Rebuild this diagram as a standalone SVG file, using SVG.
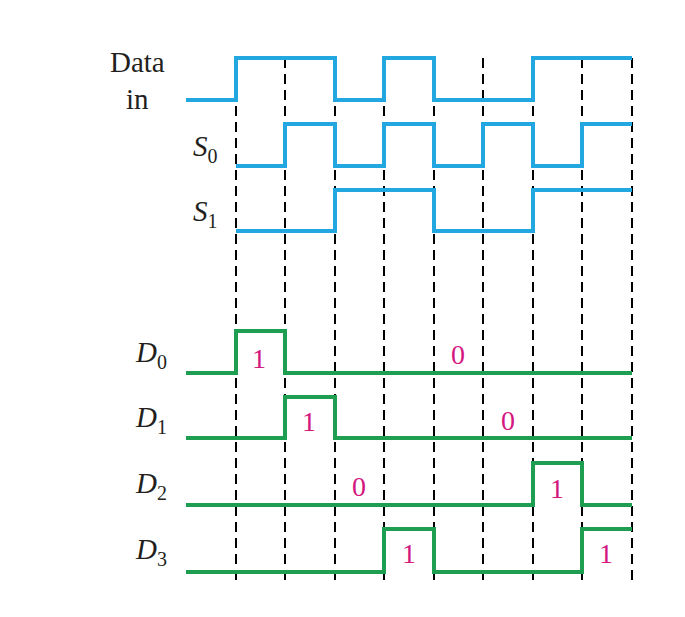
<svg xmlns="http://www.w3.org/2000/svg" width="685" height="617" viewBox="0 0 685 617">
<style>
.b{fill:none;stroke:#22a7e0;stroke-width:4}
.g{fill:none;stroke:#1e9e50;stroke-width:4}
.d{stroke:#000;stroke-width:2;stroke-dasharray:10,6}
.t{font-family:"Liberation Serif",serif;font-size:29px;fill:#231f20}
.i{font-style:italic}
.p{font-family:"Liberation Serif",serif;font-size:28px;fill:#d4177f;text-anchor:middle}
.w{fill:#fff}
</style>
<rect width="685" height="617" fill="#fff"/>
<g id="grid">
<line class="d" x1="236" y1="58" x2="236" y2="585"/><line class="d" x1="285" y1="58" x2="285" y2="585"/>
<line class="d" x1="335" y1="58" x2="335" y2="585"/><line class="d" x1="384" y1="58" x2="384" y2="585"/>
<line class="d" x1="434" y1="58" x2="434" y2="585"/><line class="d" x1="483" y1="58" x2="483" y2="585"/>
<line class="d" x1="533" y1="58" x2="533" y2="585"/><line class="d" x1="582" y1="58" x2="582" y2="585"/>
<line class="d" x1="632" y1="58" x2="632" y2="585"/>
</g>
<g id="datain"><text class="t" x="110" y="72">Data</text><text class="t" x="126" y="109">in</text>
<polyline class="b" points="186,100 236,100 236,58 335,58 335,100 384,100 384,58 434,58 434,100 533,100 533,58 632,58"/></g>
<g id="s0"><text class="t i" x="193" y="156">S<tspan font-size="20" font-style="normal" dy="7">0</tspan></text>
<polyline class="b" points="236,166 285,166 285,124 335,124 335,166 384,166 384,124 434,124 434,166 483,166 483,124 533,124 533,166 582,166 582,124 632,124"/></g>
<g id="s1"><text class="t i" x="193" y="221">S<tspan font-size="20" font-style="normal" dy="7">1</tspan></text>
<polyline class="b" points="236,231 335,231 335,190 434,190 434,231 533,231 533,190 632,190"/></g>
<g id="d0"><text class="t i" x="136" y="362">D<tspan font-size="20" font-style="normal" dy="7">0</tspan></text>
<polyline class="g" points="186,373 236,373 236,331 285,331 285,373 632,373"/>
<text class="p" x="259" y="368">1</text><rect class="w" x="446" y="341" width="24" height="26"/><text class="p" x="458" y="364">0</text></g>
<g id="d1"><text class="t i" x="136" y="427">D<tspan font-size="20" font-style="normal" dy="7">1</tspan></text>
<polyline class="g" points="186,438 285,438 285,397 335,397 335,438 632,438"/>
<text class="p" x="309" y="431">1</text><rect class="w" x="496" y="407" width="24" height="26"/><text class="p" x="508" y="430">0</text></g>
<g id="d2"><text class="t i" x="136" y="493">D<tspan font-size="20" font-style="normal" dy="7">2</tspan></text>
<polyline class="g" points="186,505 533,505 533,463 582,463 582,505 632,505"/>
<rect class="w" x="347" y="472" width="24" height="26"/><text class="p" x="359" y="496">0</text><text class="p" x="557" y="498">1</text></g>
<g id="d3"><text class="t i" x="136" y="559">D<tspan font-size="20" font-style="normal" dy="7">3</tspan></text>
<polyline class="g" points="186,572 384,572 384,529 434,529 434,572 582,572 582,529 632,529"/>
<text class="p" x="409" y="563">1</text><text class="p" x="606" y="563">1</text></g>
</svg>
